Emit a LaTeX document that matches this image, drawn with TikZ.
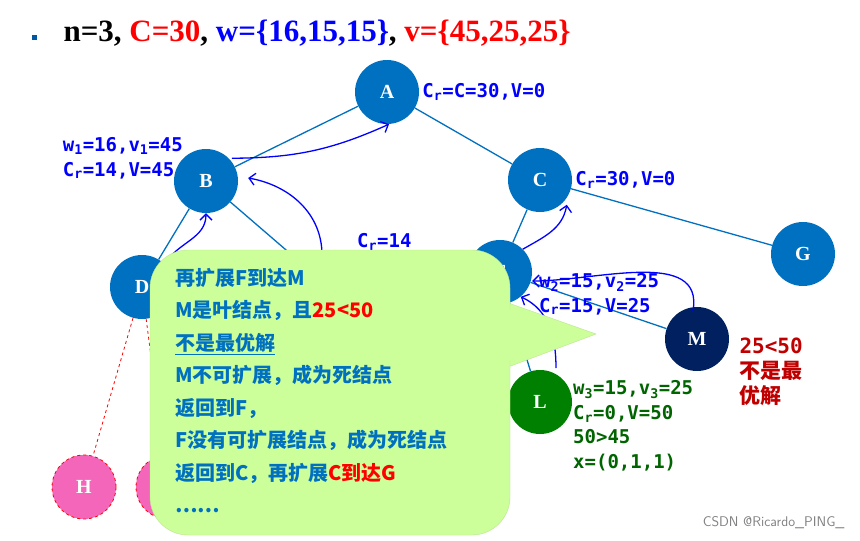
\documentclass[tikz,border=0pt]{standalone}
\usepackage{fontspec}
\setmainfont{Liberation Serif}
\newfontfamily\labfont{DejaVu Sans Mono}
\newfontfamily\cjk{Noto Sans CJK SC}
\usetikzlibrary{arrows.meta}
\definecolor{nodeblue}{RGB}{0,112,192}
\definecolor{navy}{RGB}{0,32,96}
\definecolor{leafgreen}{RGB}{0,128,0}
\definecolor{callgreen}{RGB}{204,255,153}
\definecolor{darkred}{RGB}{192,0,0}
\definecolor{tgreen}{RGB}{0,100,0}
\tikzset{>={Straight Barb[length=6pt]}}
\tikzset{
  tnode/.style={circle, fill=nodeblue, minimum size=64pt, inner sep=0pt,
    text=white, font=\bfseries\fontsize{20}{20}\selectfont},
  dead/.style={tnode, fill=magenta!60, draw=red, dashed, thick},
  tedge/.style={nodeblue, line width=1.3pt},
  back/.style={->, blue, line width=1.3pt},
  lab/.style={font=\labfont\bfseries\fontsize{19}{25}\selectfont, blue, align=left, inner sep=1pt},
}
\begin{document}
\begin{tikzpicture}[x=1pt,y=-1pt]
\useasboundingbox (0,0) rectangle (860,541);
% title
\node[fill=nodeblue!70!navy, minimum size=5pt, inner sep=0pt] (bul) at (34,37) {};
\node[anchor=west, font=\bfseries\fontsize{31}{31}\selectfont] (title) at (60,33)
  {n=3, \textcolor{red}{C=30}, \textcolor{blue}{w=\{16,15,15\}}, \textcolor{red}{v=\{45,25,25\}}};
% nodes
\node[tnode] (a) at (387,92) {A};
\node[tnode] (b) at (206,181) {B};
\node[tnode] (c) at (540,180) {C};
\node[tnode] (d) at (142,287) {D};
\node[tnode] (f) at (500,272) {F};
\node[tnode] (g) at (803,254) {G};
\node[tnode, fill=navy] (m) at (697,339) {M};
\node[tnode, fill=leafgreen] (l) at (540,402) {L};
\node[dead] (h) at (84,487) {H};
\node[dead] (i) at (168,487) {I};
\coordinate (e) at (300,262);
% tree edges
\draw[tedge] (a) -- (b);
\draw[tedge] (a) -- (c);
\draw[tedge] (b) -- (d);
\draw[tedge] (b) -- (e);
\draw[tedge] (c) -- (f);
\draw[tedge] (c) -- (g);
\draw[tedge] (f) -- (m);
\draw[tedge] (f) -- (l);
\draw[red, thick, dashed] (d) -- (h);
\draw[red, thick, dashed] (d) -- (i);
% backtracking arrows
\draw[back] ([xshift=3pt]b.north east) to[bend right=12] ([xshift=2pt]a.south);
\draw[back] (d.north east) to[out=60, in=-90] (b.south);
\coordinate (up) at (322,255);
\draw[back] (up) to[out=90, in=-10] ([xshift=10pt,yshift=3pt]b.east);
\draw[back] (f.north east) to[out=30, in=-100] ([xshift=4pt,yshift=-2pt]c.south east);
\draw[back] ([xshift=-4pt,yshift=-4pt]m.north) to[out=80, in=0] ([yshift=-9pt]f.east);
\coordinate (lup) at (556,368);
\draw[back] (lup) to[out=90, in=-25] ([xshift=-2pt,yshift=-2pt]f.south east);
% labels
\node[lab, anchor=west] (la) at ([xshift=2pt]a.east) {C\textsubscript{r}=C=30,V=0};
\node[lab, anchor=east] (lb) at (184,158) {w\textsubscript{1}=16,v\textsubscript{1}=45\\C\textsubscript{r}=14,V=45};
\node[lab, anchor=east] (lb2) at (178,170) {};
\node[lab, anchor=west] (lc) at ([xshift=2pt]c.east) {C\textsubscript{r}=30,V=0};
\node[lab, anchor=west] (le) at (356,242) {C\textsubscript{r}=14};
\node[lab, anchor=west] (lf) at (538,294) {w\textsubscript{2}=15,v\textsubscript{2}=25\\C\textsubscript{r}=15,V=25};
\node[lab, anchor=west, text=tgreen, font=\labfont\bfseries\fontsize{19}{24.5}\selectfont] (ll) at (572,426) {w\textsubscript{3}=15,v\textsubscript{3}=25\\C\textsubscript{r}=0,V=50\\50>45\\x=(0,1,1)};
\node[anchor=west, align=left, text=darkred, font=\cjk\bfseries\fontsize{21}{25}\selectfont] (lm) at (736,372)
  {\labfont 25<50\\不是最\\优解};
% callout
\fill[callgreen, draw=callgreen!80!gray] (500,300) -- (596,334) -- (500,370) -- cycle;
\fill[callgreen, draw=callgreen!80!gray, rounded corners=38pt] (150,250) rectangle (510,535);
\fill[callgreen] (495,305) -- (590,334) -- (495,365) -- cycle;
\node[anchor=north west, align=left, text=nodeblue, inner sep=0pt,
  font=\cjk\bfseries\fontsize{20}{32.5}\selectfont] (txt) at (175,268)
  {再扩展F到达M\\
   M是叶结点，且\textcolor{red}{25<50}\\
   \underline{不是最优解}\\
   M不可扩展，成为死结点\\
   返回到F，\\
   F没有可扩展结点，成为死结点\\
   返回到C，再扩展\textcolor{red}{C到达G}\\
   ……};
\node[anchor=south east, text=gray, font=\sffamily\fontsize{14}{14}\selectfont] (csdn) at (848,532) {CSDN @Ricardo\_PING\_};
\end{tikzpicture}
\end{document}
